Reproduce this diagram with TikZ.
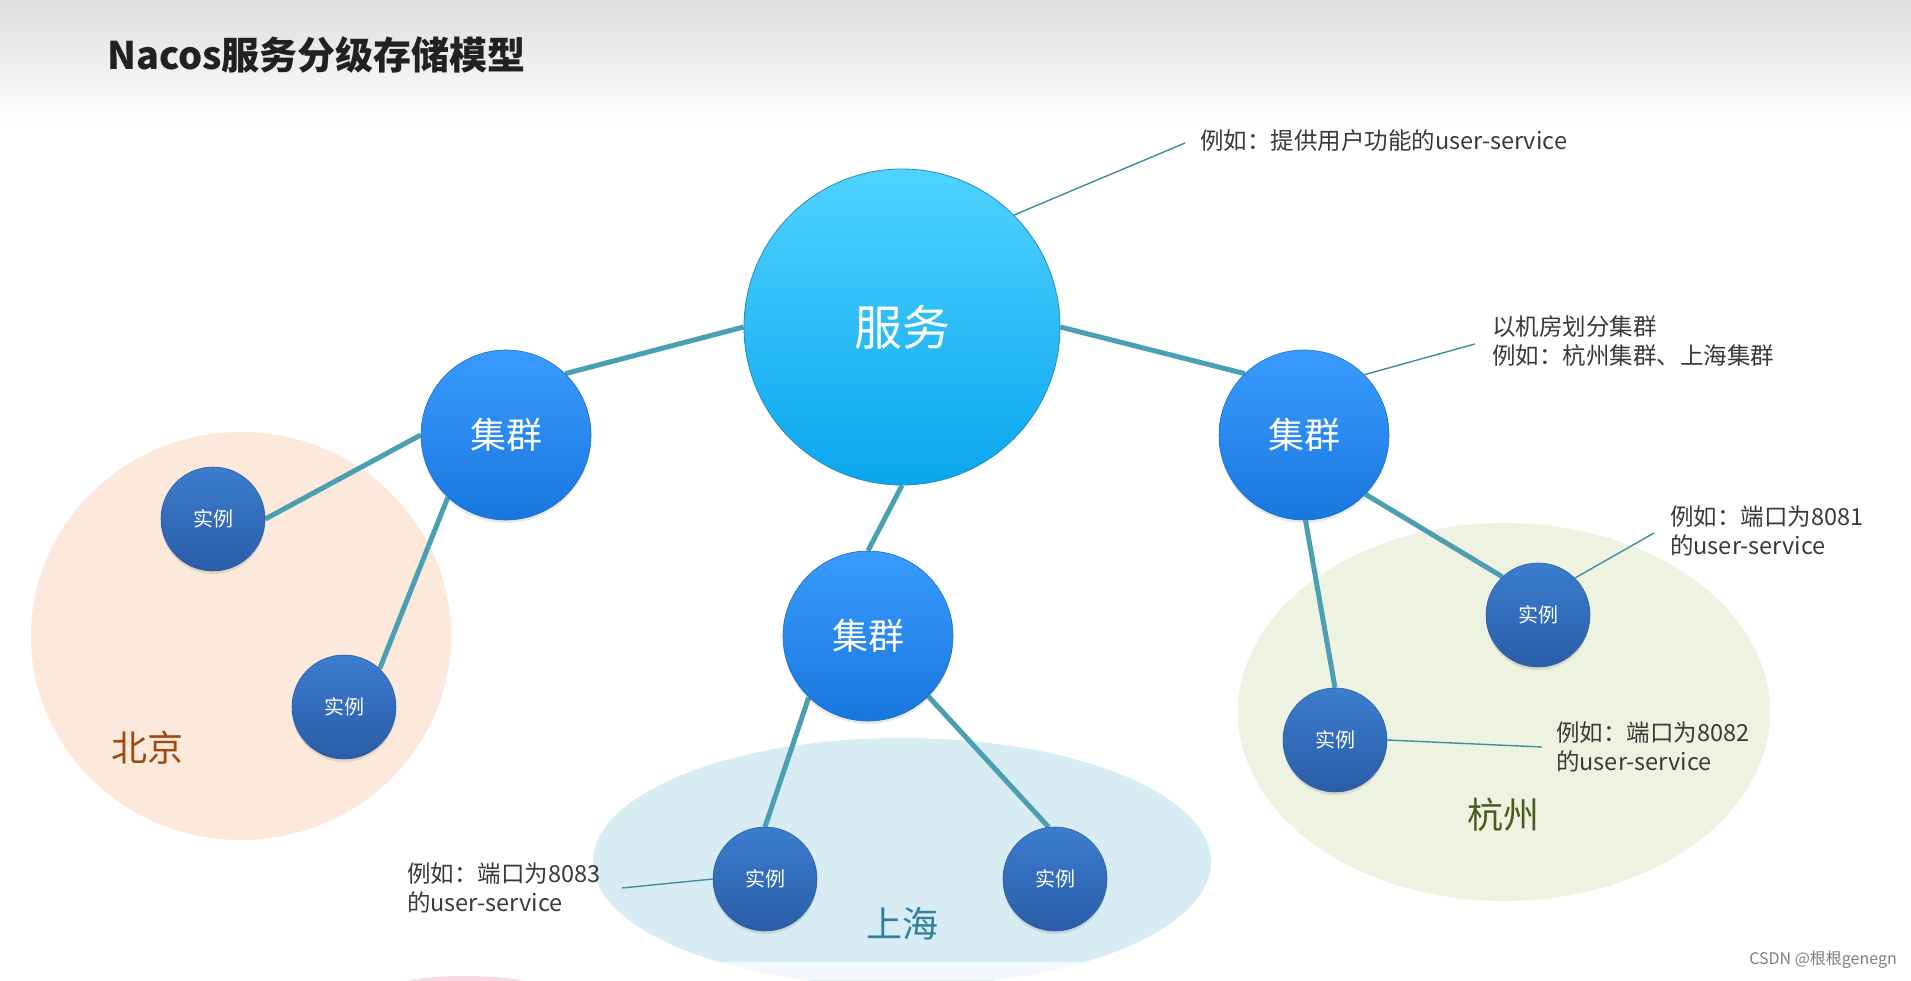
\documentclass[tikz,border=0pt]{standalone}
\usepackage{fontspec}
\setmainfont{Noto Sans CJK SC}
\usetikzlibrary{shadows}
\pgfdeclarelayer{bg}
\pgfdeclarelayer{links}
\pgfsetlayers{bg,links,main}
\definecolor{conn}{HTML}{4AA0B2}
\definecolor{annot}{HTML}{3F8E9E}
\definecolor{bjfill}{HTML}{FDE9DC}
\definecolor{shfill}{HTML}{D8ECF3}
\definecolor{hzfill}{HTML}{EEF3E1}
\definecolor{txt}{HTML}{3A3A3A}
\definecolor{svcbord}{HTML}{2A8AB8}
\definecolor{svctop}{HTML}{4FD3FF}
\definecolor{svcbot}{HTML}{0AA6EE}
\definecolor{clutop}{HTML}{3A9BFF}
\definecolor{clubot}{HTML}{1877DD}
\definecolor{clubord}{HTML}{1E6CC0}
\definecolor{instop}{HTML}{3B7DCE}
\definecolor{insbot}{HTML}{2A5DA8}
\definecolor{insbord}{HTML}{2A5E9E}
\definecolor{bjtext}{HTML}{9C4A12}
\definecolor{shtext}{HTML}{2F7F9F}
\definecolor{hztext}{HTML}{4D5A1E}
\definecolor{blob}{HTML}{FBD9E4}
\tikzset{
  svc/.style={circle, inner sep=0pt, minimum size=316pt, draw=svcbord, line width=0.8pt,
    top color=svctop, bottom color=svcbot, text=white, font=\fontsize{48}{56}\selectfont},
  clu/.style={circle, inner sep=0pt, minimum size=170pt, draw=clubord, line width=0.6pt,
    top color=clutop, bottom color=clubot, text=white, font=\fontsize{36}{42}\selectfont,
    drop shadow={opacity=0.18, shadow xshift=0pt, shadow yshift=-3pt}},
  ins/.style={circle, inner sep=0pt, minimum size=104pt, draw=insbord, line width=0.6pt,
    top color=instop, bottom color=insbot, text=white, font=\fontsize{20}{24}\selectfont,
    drop shadow={opacity=0.22, shadow xshift=0pt, shadow yshift=-3pt}},
  link/.style={draw=conn, line width=5pt},
  note/.style={draw=annot, line width=1.4pt},
  notetext/.style={anchor=west, align=left, text=txt, font=\fontsize{23.5}{29}\selectfont, inner sep=0pt},
  region/.style={font=\fontsize{36}{42}\selectfont}
}
\begin{document}
\begin{tikzpicture}[x=1pt, y=-1pt]
\useasboundingbox (0,0) rectangle (1911,980);
\begin{pgfonlayer}{bg}
\fill[white] (0,0) rectangle (1911,980);
\shade[top color=black!13, bottom color=white] (0,0) rectangle (1911,125);
\fill[bjfill] (241,636) ellipse [x radius=210, y radius=204];
\fill[shfill] (902,862) ellipse [x radius=309, y radius=124];
\fill[hzfill] (1504,712) ellipse [x radius=266, y radius=189];
\fill[white, opacity=0.7] (0,962) rectangle (1911,980);
\fill[blob] (465,988) ellipse [x radius=72, y radius=12];
\end{pgfonlayer}
% title
\node[anchor=west, inner sep=0pt, text=black!87, font=\fontsize{38}{44}\selectfont\bfseries] (title) at (107,55) {Nacos服务分级存储模型};
% nodes
\node[svc] (fw) at (902,327) {服务};
\node[clu] (jqL) at (506,435) {集群};
\node[clu] (jqR) at (1304,435) {集群};
\node[clu] (jqM) at (868,636) {集群};
\node[ins] (sL1) at (213,519) {实例};
\node[ins] (sL2) at (344,707) {实例};
\node[ins] (sM1) at (765,879) {实例};
\node[ins] (sM2) at (1055,879) {实例};
\node[ins] (sR1) at (1538,615) {实例};
\node[ins] (sR2) at (1335,740) {实例};
% connectors
\begin{pgfonlayer}{links}
\draw[link] (fw.west) -- (jqL.46);
\draw[link] (fw.east) -- (jqR.134);
\draw[link] (fw.south) -- (jqM.north);
\draw[link] (jqL.west) -- (sL1.east);
\draw[link] (jqL.227) -- (sL2.47);
\draw[link] (jqM.226) -- (sM1.north);
\draw[link] (jqM.-45) -- (sM2.97);
\draw[link] (jqR.-44) -- (sR1.133);
\draw[link] (jqR.-89) -- (sR2.north);
% annotations
\coordinate (nFw) at (1185,143);
\coordinate (nJq) at (1475,344);
\coordinate (nR1) at (1654,533);
\coordinate (nR2) at (1542,747);
\coordinate (nM1) at (622,888);
\draw[note] (fw.45) -- (nFw);
\draw[note] (jqR.45) -- (nJq);
\draw[note] (sR1.45) -- (nR1);
\draw[note] (sR2.east) -- (nR2);
\draw[note] (sM1.west) -- (nM1);
\end{pgfonlayer}
\node[notetext] (tFw) at (1200,141) {例如：提供用户功能的user-service};
\node[notetext] (tJq) at (1492,341) {以机房划分集群\\例如：杭州集群、上海集群};
\node[notetext] (tR1) at (1670,531) {例如：端口为8081\\的user-service};
\node[notetext] (tR2) at (1556,747) {例如：端口为8082\\的user-service};
\node[notetext] (tM1) at (407,888) {例如：端口为8083\\的user-service};
% region labels
\node[region, text=bjtext] (bj) at (147,748) {北京};
\node[region, text=shtext] (sh) at (902,924) {上海};
\node[region, text=hztext] (hz) at (1503,815) {杭州};
% watermark
\node[anchor=east, inner sep=0pt, text=black!50, font=\fontsize{16}{19}\selectfont] (wm) at (1897,960) {CSDN @根根genegn};
\end{tikzpicture}
\end{document}
